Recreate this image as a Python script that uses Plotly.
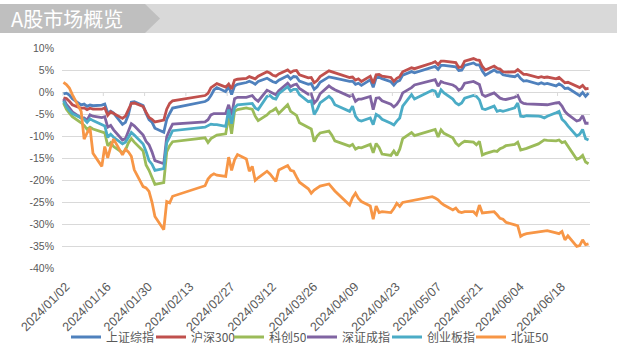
import pandas as pd
import plotly.graph_objects as go

# ---- trading days (2024 H1), by month ----
days_jan = [2, 3, 4, 5, 8, 9, 10, 11, 12, 15, 16, 17, 18, 19, 22, 23, 24, 25, 26, 29, 30, 31]
days_feb = [1, 2, 5, 6, 7, 8, 19, 20, 21, 22, 23, 26, 27, 28, 29]
days_mar = [1, 4, 5, 6, 7, 8, 11, 12, 13, 14, 15, 18, 19, 20, 21, 22, 25, 26, 27, 28, 29]
days_apr = [1, 2, 3, 8, 9, 10, 11, 12, 15, 16, 17, 18, 19, 22, 23, 24, 25, 26, 29, 30]
days_may = [6, 7, 8, 9, 10, 13, 14, 15, 16, 17, 20, 21, 22, 23, 24, 27, 28, 29, 30, 31]
days_jun = [3, 4, 5, 6, 7, 11, 12, 13, 14, 17, 18, 19, 20, 21, 24, 25, 26, 27, 28]

# ---- cumulative return (%) ----
sh_comp = [-0.43, -0.26, -0.69, -1.54, -2.94, -2.75, -3.27, -2.97, -3.12, -2.98, -2.72, -4.75, -4.34, -4.80, -7.35, -6.90, -5.18, -2.31, -2.18, -3.08, -4.85, -6.27,
           -6.86, -8.23, -9.17, -6.23, -4.88, -3.66, -2.16, -1.76, -0.81, 0.45, 1.01, 0.07, 1.36, -0.57, 1.35,
           1.75, 2.16, 2.45, 2.18, 1.76, 2.39, 3.14, 2.72, 2.32, 2.13, 2.68, 3.70, 2.95, 3.52, 3.43, 2.46, 1.73, 1.90, 0.61, 1.20, 2.23,
           3.44, 3.36, 3.17, 2.42, 2.47, 1.76, 1.99, 1.50, 2.77, 1.08, 3.24, 3.34, 3.04, 2.34, 1.58, 2.35, 2.62, 3.82, 4.64, 4.37,
           5.57, 5.81, 5.16, 6.03, 6.04, 5.82, 5.74, 4.87, 4.96, 6.02, 6.60, 6.15, 6.17, 4.76, 3.83, 5.01, 4.53, 4.57, 3.92, 3.76,
           3.48, 3.91, 3.04, 2.48, 2.57, 1.79, 2.10, 1.81, 1.94, 1.38, 1.86, 1.45, 0.78, 0.90, -0.40, -0.84, -0.08, -0.98, -0.25]
hs300 = [-1.3, -1.5, -2.1, -2.9, -3.7, -3.6, -4.0, -3.7, -3.9, -3.9, -3.6, -5.3, -4.5, -4.9, -6.0, -5.5, -4.2, -2.6, -2.5, -3.3, -4.6, -5.8,
         -6.2, -6.8, -6.4, -3.9, -2.6, -2.0, -0.8, -0.3, 1.0, 1.5, 1.9, 1.1, 1.8, 0.7, 2.7,
         2.9, 3.1, 3.5, 3.3, 3.0, 3.6, 4.6, 4.3, 3.8, 3.6, 4.1, 5.0, 4.4, 4.8, 4.9, 3.9, 3.2, 3.3, 2.1, 2.6, 3.5,
         4.8, 4.6, 4.3, 3.3, 3.4, 2.7, 3.0, 2.4, 3.6, 2.0, 3.9, 4.0, 3.6, 3.3, 2.4, 3.1, 3.5, 4.6, 5.5, 5.3,
         6.6, 6.9, 6.2, 7.0, 7.0, 6.8, 6.7, 5.6, 5.7, 7.0, 7.6, 7.3, 7.2, 5.8, 5.0, 5.9, 5.4, 5.2, 4.6, 4.5,
         4.6, 5.1, 4.6, 4.0, 4.0, 3.3, 3.5, 3.3, 3.4, 3.0, 3.3, 2.7, 2.1, 2.2, 1.2, 1.0, 1.5, 0.7, 0.8]
star50 = [-2.5, -3.9, -4.8, -5.6, -7.0, -7.6, -8.5, -8.0, -8.4, -9.0, -9.3, -12.2, -11.5, -12.4, -13.8, -13.2, -11.6, -10.6, -11.4, -13.4, -16.6, -17.8,
          -19.5, -21.0, -20.6, -13.6, -12.2, -11.3, -10.4, -11.5, -10.6, -10.1, -9.8, -9.5, -5.5, -9.5, -4.4,
          -4.0, -3.6, -3.8, -3.9, -5.5, -6.5, -5.2, -4.5, -4.2, -3.7, -4.9, -2.9, -4.4, -4.8, -5.3, -7.0, -8.1, -8.4, -11.3, -10.0, -9.3,
          -8.9, -9.8, -11.1, -12.3, -11.9, -13.0, -12.6, -12.7, -11.9, -13.8, -11.7, -12.6, -14.1, -14.4, -13.4, -14.4, -13.0, -10.6, -9.2, -9.9,
          -8.7, -8.5, -10.2, -8.6, -9.4, -10.4, -11.6, -12.2, -11.6, -11.2, -11.4, -12.0, -11.2, -14.3, -14.0, -13.4, -13.5, -12.9, -12.6, -12.2,
          -11.9, -11.4, -13.2, -13.0, -12.8, -11.8, -11.3, -10.9, -11.0, -11.1, -10.9, -11.5, -11.3, -12.3, -15.3, -15.0, -14.4, -15.9, -16.3]
sz_comp = [-1.6, -2.8, -3.6, -4.5, -5.9, -5.9, -6.4, -5.2, -5.5, -5.8, -5.6, -8.0, -7.6, -8.6, -10.9, -10.6, -8.9, -7.2, -7.7, -9.8, -11.2, -12.0,
           -13.6, -15.6, -16.3, -10.2, -8.6, -7.3, -6.8, -6.3, -5.2, -4.9, -4.9, -4.9, -2.9, -5.3, -1.5,
           -1.2, -1.2, -1.0, -0.8, -1.6, -2.1, 0.4, 0.1, -0.3, -0.6, 0.3, 2.0, 1.2, 1.6, 1.8, 0.8, -0.5, -0.4, -2.5, -1.8, -0.4,
           1.4, 0.9, 0.5, -1.0, -0.6, -2.1, -1.6, -1.6, -1.0, -4.0, -1.4, -1.3, -2.0, -2.8, -3.4, -2.8, -1.8, -0.2, 1.0, 1.6,
           2.5, 2.8, 1.3, 2.4, 2.1, 1.6, 1.2, 0.4, 0.8, 2.0, 2.4, 2.1, 1.7, -0.6, -1.0, -0.2, -0.8, -1.4, -1.6, -1.7,
           -1.2, -0.8, -2.2, -2.6, -2.7, -2.9, -2.8, -3.0, -2.9, -2.5, -2.4, -3.2, -4.4, -5.1, -6.6, -6.4, -5.4, -7.1, -7.1]
chinext = [-2.0, -3.3, -4.2, -4.9, -5.9, -6.2, -6.9, -6.1, -6.5, -7.4, -7.7, -10.3, -9.6, -10.3, -11.8, -11.4, -10.2, -9.2, -9.8, -11.8, -13.5, -15.6,
           -16.4, -17.8, -17.4, -11.5, -10.2, -8.8, -8.0, -7.6, -7.3, -7.4, -7.4, -7.8, -4.0, -7.2, -3.6,
           -2.9, -2.7, -2.6, -2.6, -3.6, -4.0, -1.0, -0.8, -1.4, -1.6, -0.4, 1.2, 0.2, 0.6, 0.6, -0.6, -2.2, -2.0, -5.1, -4.0, -2.5,
           -1.0, -1.6, -2.9, -4.4, -3.2, -5.5, -6.4, -6.6, -5.9, -7.4, -5.1, -5.5, -6.2, -7.1, -7.5, -6.6, -5.9, -3.2, -0.6, -1.6,
           0.4, 0.2, -1.2, 0.5, -0.2, -1.6, -2.5, -2.9, -2.5, -1.4, -0.8, -1.0, -1.8, -3.8, -4.0, -3.2, -4.4, -4.2, -4.4, -4.2,
           -3.6, -2.5, -5.5, -5.6, -5.4, -5.5, -5.6, -5.9, -5.5, -4.7, -4.4, -6.2, -6.8, -7.7, -10.0, -9.6, -8.5, -10.6, -10.9]
bse50 = [2.2, 1.7, 0.9, -0.6, -4.4, -10.7, -9.3, -8.2, -13.9, -16.9, -12.4, -15.0, -12.5, -10.7, -14.3, -13.0, -13.6, -14.6, -17.7, -21.5, -21.8, -22.6,
         -25.0, -28.3, -31.3, -24.9, -25.2, -23.7, -21.3, -19.8, -19.0, -18.6, -18.9, -19.2, -14.8, -17.8, -15.4,
         -14.2, -15.2, -18.0, -16.9, -20.1, -19.5, -18.0, -18.6, -19.5, -20.3, -17.7, -16.7, -17.8, -18.0, -19.3, -20.5, -22.0, -23.0, -22.3, -21.8, -21.4,
         -20.9, -21.8, -22.5, -25.7, -24.0, -23.0, -24.2, -24.9, -25.9, -28.9, -25.9, -27.4, -27.2, -27.4, -26.5, -25.3, -26.0, -25.1, -24.7, -24.6,
         -23.8, -24.1, -24.5, -25.2, -25.7, -26.8, -26.4, -27.2, -27.4, -27.2, -27.2, -27.9, -25.7, -27.5, -27.4, -27.2, -27.9, -28.7, -28.9, -29.6,
         -30.2, -30.4, -32.8, -32.4, -32.2, -31.8, -31.6, -31.5, -31.5, -32.0, -32.2, -31.7, -33.6, -32.7, -35.1, -34.9, -33.6, -34.7, -34.5]

series_names = ["上证综指", "沪深300", "科创50", "深证成指", "创业板指", "北证50"]
series_colors = ["#4F81BD", "#C0504D", "#9BBB59", "#8064A2", "#4BACC6", "#F79646"]
legend_text_widths = [40, 33, 28, 40, 39, 34]

# ---- axis ticks ----
x_tick_dates = ["2024-01-02", "2024-01-16", "2024-01-30", "2024-02-13", "2024-02-27", "2024-03-12", "2024-03-26",
                "2024-04-09", "2024-04-23", "2024-05-07", "2024-05-21", "2024-06-04", "2024-06-18"]
y_tick_vals = [10, 5, 0, -5, -10, -15, -20, -25, -30, -35, -40]
title_text = "A股市场概览"

# ---- build ----
months = [(1, days_jan), (2, days_feb), (3, days_mar), (4, days_apr), (5, days_may), (6, days_jun)]
dates = pd.to_datetime([f"2024-{m:02d}-{d:02d}" for m, ds in months for d in ds]) + pd.Timedelta(hours=12)
all_series = [sh_comp, hs300, star50, sz_comp, chinext, bse50]

FONT = "Liberation Sans, Noto Sans CJK SC, sans-serif"
CJK = "Noto Sans CJK SC, sans-serif"
GRID = "#d9d9d9"
TXT = "#595959"

L, R, T, B = 62, 29, 48, 89
PW = 619 - L - R
PH = 357 - T - B

fig = go.Figure()
for name, color, vals, lw in zip(series_names, series_colors, all_series, legend_text_widths):
    fig.add_trace(go.Scatter(x=dates, y=vals, name=name, mode="lines",
                             line=dict(color=color, width=2.8), legendwidth=lw))

tick_dt = pd.to_datetime(x_tick_dates)
shapes = []
# title band
shapes.append(dict(type="rect", xref="paper", yref="paper", xsizemode="pixel", ysizemode="pixel",
                   xanchor=0, yanchor=1, x0=-L, x1=617 - L, y0=T - 4, y1=T - 33,
                   fillcolor="#d9d9d9", line=dict(width=0), layer="below"))
shapes.append(dict(type="path", xref="paper", yref="paper", xsizemode="pixel", ysizemode="pixel",
                   xanchor=0, yanchor=1,
                   path=f"M {-L} {T-4} L {145-L} {T-4} L {160-L} {T-18.5} L {145-L} {T-33} L {-L} {T-33} Z",
                   fillcolor="#bfbfbf", line=dict(width=0), layer="below"))
# small tick marks on the 0% line
for t in tick_dt:
    shapes.append(dict(type="line", xref="x", yref="y", ysizemode="pixel", yanchor=0,
                       x0=t, x1=t, y0=0, y1=-4, line=dict(color=GRID, width=1)))

fig.update_layout(
    width=619, height=357,
    margin=dict(l=L, r=R, t=T, b=B, autoexpand=False),
    paper_bgcolor="white", plot_bgcolor="white",
    font=dict(family=FONT, size=11, color=TXT),
    shapes=shapes,
    showlegend=True,
    legend=dict(orientation="h", xref="container", yref="container", x=308 / 619, xanchor="center",
                y=1 - 337 / 357, yanchor="middle", font=dict(family=CJK, size=12, color=TXT),
                bgcolor="rgba(0,0,0,0)", itemwidth=30, tracegroupgap=0),
    annotations=[dict(text=title_text, xref="paper", yref="paper", x=(9 - L) / PW, xanchor="left",
                      y=1 + (T - 18.5) / PH, yanchor="middle", showarrow=False,
                      font=dict(family=CJK, size=20, color="white"))],
)
fig.update_xaxes(type="date", range=["2024-01-02", "2024-06-29"], tickvals=tick_dt,
                 ticktext=[t.strftime("%Y/%m/%d") for t in tick_dt], tickangle=-45,
                 showgrid=False, zeroline=False, showline=False, ticks="", automargin=False,
                 ticklabelstandoff=8, ticklabelshift=4,
                 tickfont=dict(family=FONT, size=12.5, color=TXT))
fig.update_yaxes(range=[-40, 10], tickvals=y_tick_vals, ticktext=[f"{v}%" for v in y_tick_vals],
                 showgrid=True, gridcolor=GRID, gridwidth=1, zeroline=False, showline=False, ticks="",
                 automargin=False, ticklabelstandoff=7,
                 tickfont=dict(family=FONT, size=10.5, color=TXT))

fig.write_html("out.html", config={"displayModeBar": False},
               post_script="document.body.style.margin='0px';")
